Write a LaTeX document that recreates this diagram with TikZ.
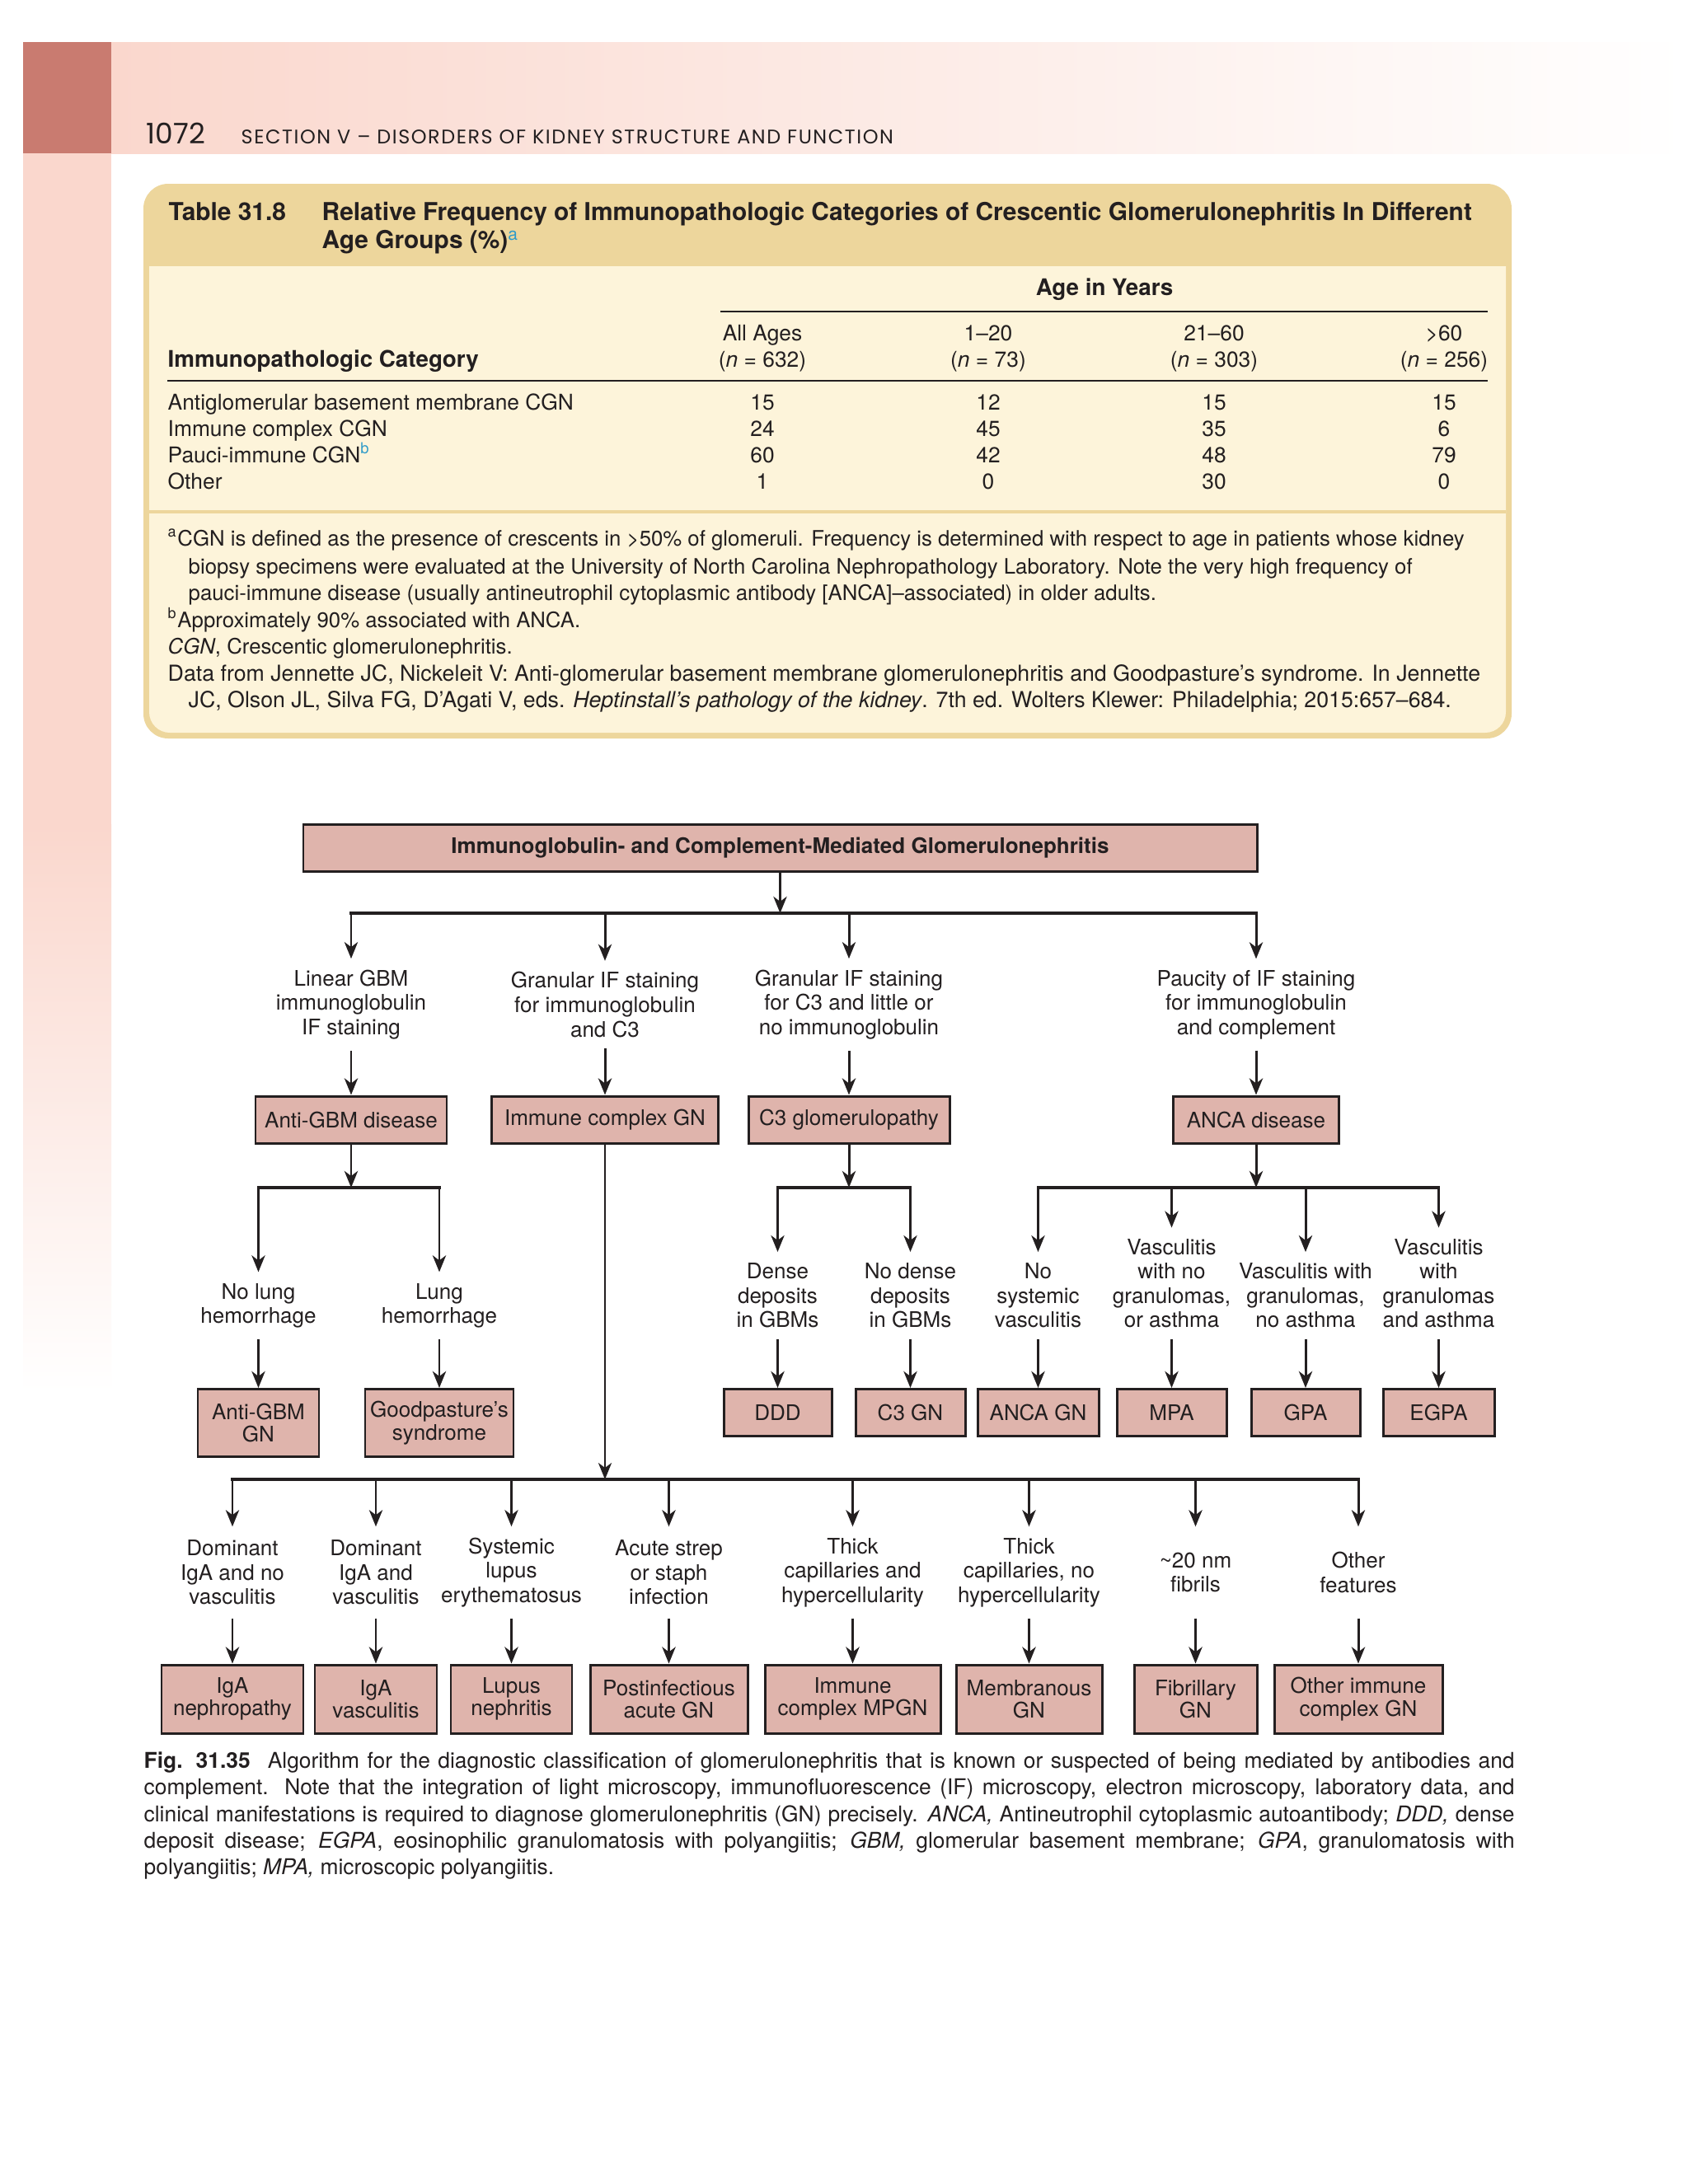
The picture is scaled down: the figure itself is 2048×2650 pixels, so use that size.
\documentclass[tikz,border=0pt]{standalone}
\usepackage{fontspec}
\setmainfont{TeX Gyre Heros}
\newfontfamily\hdrfont{Poppins}
\newfontfamily\hdrspaced[LetterSpace=6.5]{Poppins}
\usepackage{xcolor}
\usepackage{tikz}
\usetikzlibrary{positioning, backgrounds, arrows.meta}
\definecolor{hdrDark}{HTML}{C97B70}
\definecolor{hdrPink}{HTML}{FAD7CD}
\definecolor{tabTan}{HTML}{EDD69C}
\definecolor{tabCream}{HTML}{FDF4DA}
\definecolor{boxRose}{HTML}{DFB4AC}
\definecolor{noteBlue}{HTML}{2F9BC9}
\definecolor{inkK}{HTML}{231F20}

\newcommand{\tabfont}{\fontsize{7.5}{9.3}\selectfont}
\newcommand{\notefont}{\fontsize{7.33}{9.3}\selectfont}
\newcommand{\srcfont}{\fontsize{7.6}{9.3}\selectfont}
\newcommand{\titlefont}{\fontsize{8.5}{9.5}\selectfont\bfseries}
\newcommand{\headfont}{\fontsize{7.9}{9.3}\selectfont\bfseries}
\newcommand{\chartfont}{\fontsize{7.4}{8.4}\selectfont}
\newcommand{\boxfont}{\fontsize{7.4}{7.8}\selectfont}
\newcommand{\capfont}{\fontsize{7.5}{9.2}\selectfont}

\begin{document}
\begin{tikzpicture}[x=0.01cm, y=-0.01cm,
  every node/.style={inner sep=0pt, text=inkK},
  gnbox/.style={draw=inkK, fill=boxRose, line width=0.85pt, align=center, font=\boxfont},
  boxsz/.style 2 args={minimum width=#1*0.01cm, minimum height=#2*0.01cm},
  finding/.style={align=center, font=\chartfont, inner ysep=3.7pt},
  link/.style={draw=inkK, line width=0.85pt, -{Stealth[length=5.7pt, width=4.6pt, inset=1.7pt]}},
  bar/.style={draw=inkK, line width=0.95pt, line cap=rect},
  rule/.style={draw=inkK, line width=0.65pt}]
  \useasboundingbox (0,0) rectangle (2048,2650);
  \fill[white] (0,0) rectangle (2048,2650);

  % page header
  \fill[hdrDark] (28,51) rectangle (135,186);
  \shade[left color=hdrPink, middle color=hdrPink!75!white, right color=white] (135,51) rectangle (2048,186);
  \fill[hdrPink] (28,186) rectangle (135,1000);
  \shade[top color=hdrPink, bottom color=white] (28,1000) rectangle (135,1690);
  \node[anchor=base west, font=\hdrfont\fontsize{9.8}{10}\selectfont] (pgno) at (177,174) {1072};
  \node[anchor=base west, font=\hdrspaced\fontsize{6.8}{7}\selectfont] (section) at (292,174)
     {SECTION V \textendash{} DISORDERS OF KIDNEY STRUCTURE AND FUNCTION};

  % table frame
  \fill[tabTan, rounded corners=0.3cm] (174,223) rectangle (1834,896);
  \fill[tabCream] (181,323) -- (1827,323) -- (1827,600) [rounded corners=0.25cm]
     -- (1827,889) -- (181,889) -- (181,600) [sharp corners] -- cycle;
  \draw[tabTan, line width=1.2pt] (181,621) -- (1827,621);

  % table title
  \node[anchor=base west, font=\titlefont] (tabno) at (204,267) {Table 31.8};
  \node[anchor=base west, font=\titlefont] (ttlA) at (390,267)
     {Relative Frequency of Immunopathologic Categories of Crescentic Glomerulonephritis In Different};
  \node[anchor=base west, font=\titlefont] (ttlB) at (390,301)
     {Age Groups (\%)\textsuperscript{\textcolor{noteBlue}{\mdseries a}}};

  % column heads
  \node[anchor=base, font=\headfont] (agehd) at (1340,358) {Age in Years};
  \draw[rule] (874,378) -- (1805,378);
  \node[anchor=base west, font=\headfont] (cathd) at (203,445) {Immunopathologic Category};
  \foreach \c/\x/\age/\num in {a/925/All Ages/632, b/1199/1--20/73, c/1473/21--60/303, d/1752/>60/256}{
     \node[anchor=base, font=\tabfont] (hd\c) at (\x,413) {\age};
     \node[anchor=base, font=\tabfont] (nn\c) at (\x,445) {(\textit{n} = \num)};
  }
  \draw[rule] (203,462) -- (1805,462);

  % table rows
  \foreach \r/\y/\lab/\a/\b/\c/\d in {
     1/497/{Antiglomerular basement membrane CGN}/15/12/15/15,
     2/529/{Immune complex CGN}/24/45/35/6,
     3/561/{Pauci-immune CGN\textsuperscript{\textcolor{noteBlue}{b}}}/60/42/48/79,
     4/593/Other/1/0/30/0}{
     \node[anchor=base west, font=\tabfont] (cat\r) at (203,\y) {\lab};
     \node[anchor=base, font=\tabfont] (va\r) at (925,\y) {\a};
     \node[anchor=base, font=\tabfont] (vb\r) at (1199,\y) {\b};
     \node[anchor=base, font=\tabfont] (vc\r) at (1473,\y) {\c};
     \node[anchor=base, font=\tabfont] (vd\r) at (1752,\y) {\d};
  }

  % footnotes
  \foreach \r/\x/\y/\txt in {
     1/203/662/{\textsuperscript{a}CGN is defined as the presence of crescents in >50\% of glomeruli. Frequency is determined with respect to age in patients whose kidney},
     2/228/696/{biopsy specimens were evaluated at the University of North Carolina Nephropathology Laboratory. Note the very high frequency of},
     3/228/728/{pauci-immune disease (usually antineutrophil cytoplasmic antibody [ANCA]--associated) in older adults.},
     4/203/761/{\textsuperscript{b}Approximately 90\% associated with ANCA.},
     5/203/793/{\textit{CGN}, Crescentic glomerulonephritis.}}{
     \node[anchor=base west, font=\notefont] (fn\r) at (\x,\y) {\txt};
  }
  \node[anchor=base west, font=\srcfont] (src1) at (203,826)
     {Data from Jennette JC, Nickeleit V: Anti-glomerular basement membrane glomerulonephritis and Goodpasture's syndrome. In Jennette};
  \node[anchor=base west, font=\srcfont] (src2) at (228,858)
     {JC, Olson JL, Silva FG, D'Agati V, eds. \textit{Heptinstall's pathology of the kidney}. 7th ed. Wolters Klewer: Philadelphia; 2015:657--684.};

  % flowchart: root
  \node[gnbox, font=\boxfont\bfseries, boxsz={1157}{57}] (root) at (946.5,1028.5)
     {Immunoglobulin- and Complement-Mediated Glomerulonephritis};
  \coordinate (jroot) at (946.5,1108);
  \draw[link] (root) -- (jroot);

  % first split
  \foreach \n/\m/\x/\lab/\res/\w in {
     lin/agbm/426/{Linear GBM\\immunoglobulin\\IF staining}/{Anti-GBM disease}/232,
     gran/icgn/734/{Granular IF staining\\for immunoglobulin\\and C3}/{Immune complex GN}/275,
     grc/cthree/1030/{Granular IF staining\\for C3 and little or\\no immunoglobulin}/{C3 glomerulopathy}/244,
     pauc/anca/1524/{Paucity of IF staining\\for immunoglobulin\\and complement}/{ANCA disease}/201}{
     \coordinate (j\n) at (\x,1108);
     \coordinate (k\m) at (\x,1441);
     \node[finding] (\n) at (\x,1219) {\lab};
     \node[gnbox, boxsz={\w}{57}] (\m) at (\x,1358.5) {\res};
     \draw[link] (j\n) -- (\n);
     \draw[link] (\n) -- (\m);
  }
  \draw[bar] (jlin) -- (jpauc);

  % second split
  \foreach \n/\x/\lab/\res/\w/\h in {
     nolung/313.5/{No lung\\hemorrhage}/{Anti-GBM\\GN}/147/82,
     lung/533/{Lung\\hemorrhage}/{Goodpasture's\\syndrome}/180/82,
     dense/943.5/{Dense\\deposits\\in GBMs}/DDD/131/57,
     nodense/1104.5/{No dense\\deposits\\in GBMs}/C3 GN/133/57,
     nosys/1259.5/{No\\systemic\\vasculitis}/ANCA GN/147/57,
     vnog/1421.5/{Vasculitis\\with no\\granulomas,\\or asthma}/MPA/133/57,
     vwg/1584/{Vasculitis with\\granulomas,\\no asthma}/GPA/132/57,
     vga/1745.5/{Vasculitis\\with\\granulomas\\and asthma}/EGPA/135/57}{
     \coordinate (j\n) at (\x,1441);
     \node[finding, anchor=south] (\n) at (\x,1625) {\lab};
     \node[gnbox, boxsz={\w}{\h}, anchor=north] (r\n) at (\x,1684) {\res};
     \draw[link] (j\n) -- (\n);
     \draw[link] (\n) -- (r\n);
  }
  \draw[bar] (jnolung) -- (jlung);
  \draw[bar] (jdense) -- (jnodense);
  \draw[bar] (jnosys) -- (jvga);
  \draw[link] (agbm) -- (kagbm);
  \draw[link] (cthree) -- (kcthree);
  \draw[link] (anca) -- (kanca);

  % immune complex split
  \coordinate (kicgn) at (734,1795);
  \draw[link, line width=0.6pt] (icgn) -- (kicgn);
  \foreach \n/\x/\lab/\res/\w in {
     iga/282/{Dominant\\IgA and no\\vasculitis}/{IgA\\nephropathy}/172,
     igav/456/{Dominant\\IgA and\\vasculitis}/{IgA\\vasculitis}/148,
     sle/620.5/{Systemic\\lupus\\erythematosus}/{Lupus\\nephritis}/147,
     strep/811.5/{Acute strep\\or staph\\infection}/{Postinfectious\\acute GN}/191,
     thickh/1034.5/{Thick\\capillaries and\\hypercellularity}/{Immune\\complex MPGN}/213,
     thickn/1248.5/{Thick\\capillaries, no\\hypercellularity}/{Membranous\\GN}/177,
     fib/1450.5/{\textasciitilde20 nm\\fibrils}/{Fibrillary\\GN}/149,
     oth/1648/{Other\\features}/{Other immune\\complex GN}/204}{
     \coordinate (j\n) at (\x,1795);
     \node[finding, minimum height=110*0.01cm] (\n) at (\x,1908) {\lab};
     \node[gnbox, boxsz={\w}{83}] (r\n) at (\x,2061.5) {\res};
     \draw[link] (j\n) -- (\n);
     \draw[link] (\n) -- (r\n);
  }
  \draw[bar] (jiga) -- (joth);

  % caption
  \node[anchor=north west, text width=16.62cm, align=justify, font=\capfont] (caption) at (174,2125)
     {\textbf{Fig. 31.35}\hspace{0.8em}Algorithm for the diagnostic classification of glomerulonephritis that is known or suspected of being mediated by antibodies and\linebreak
      complement. Note that the integration of light microscopy, immunofluorescence (IF) microscopy, electron microscopy, laboratory data, and\linebreak
      clinical manifestations is required to diagnose glomerulonephritis (GN) precisely. \textit{ANCA,} Antineutrophil cytoplasmic autoantibody; \textit{DDD,} dense\linebreak
      deposit disease; \textit{EGPA}, eosinophilic granulomatosis with polyangiitis; \textit{GBM,} glomerular basement membrane; \textit{GPA}, granulomatosis with\linebreak
      polyangiitis; \textit{MPA,} microscopic polyangiitis.};
\end{tikzpicture}
\end{document}
